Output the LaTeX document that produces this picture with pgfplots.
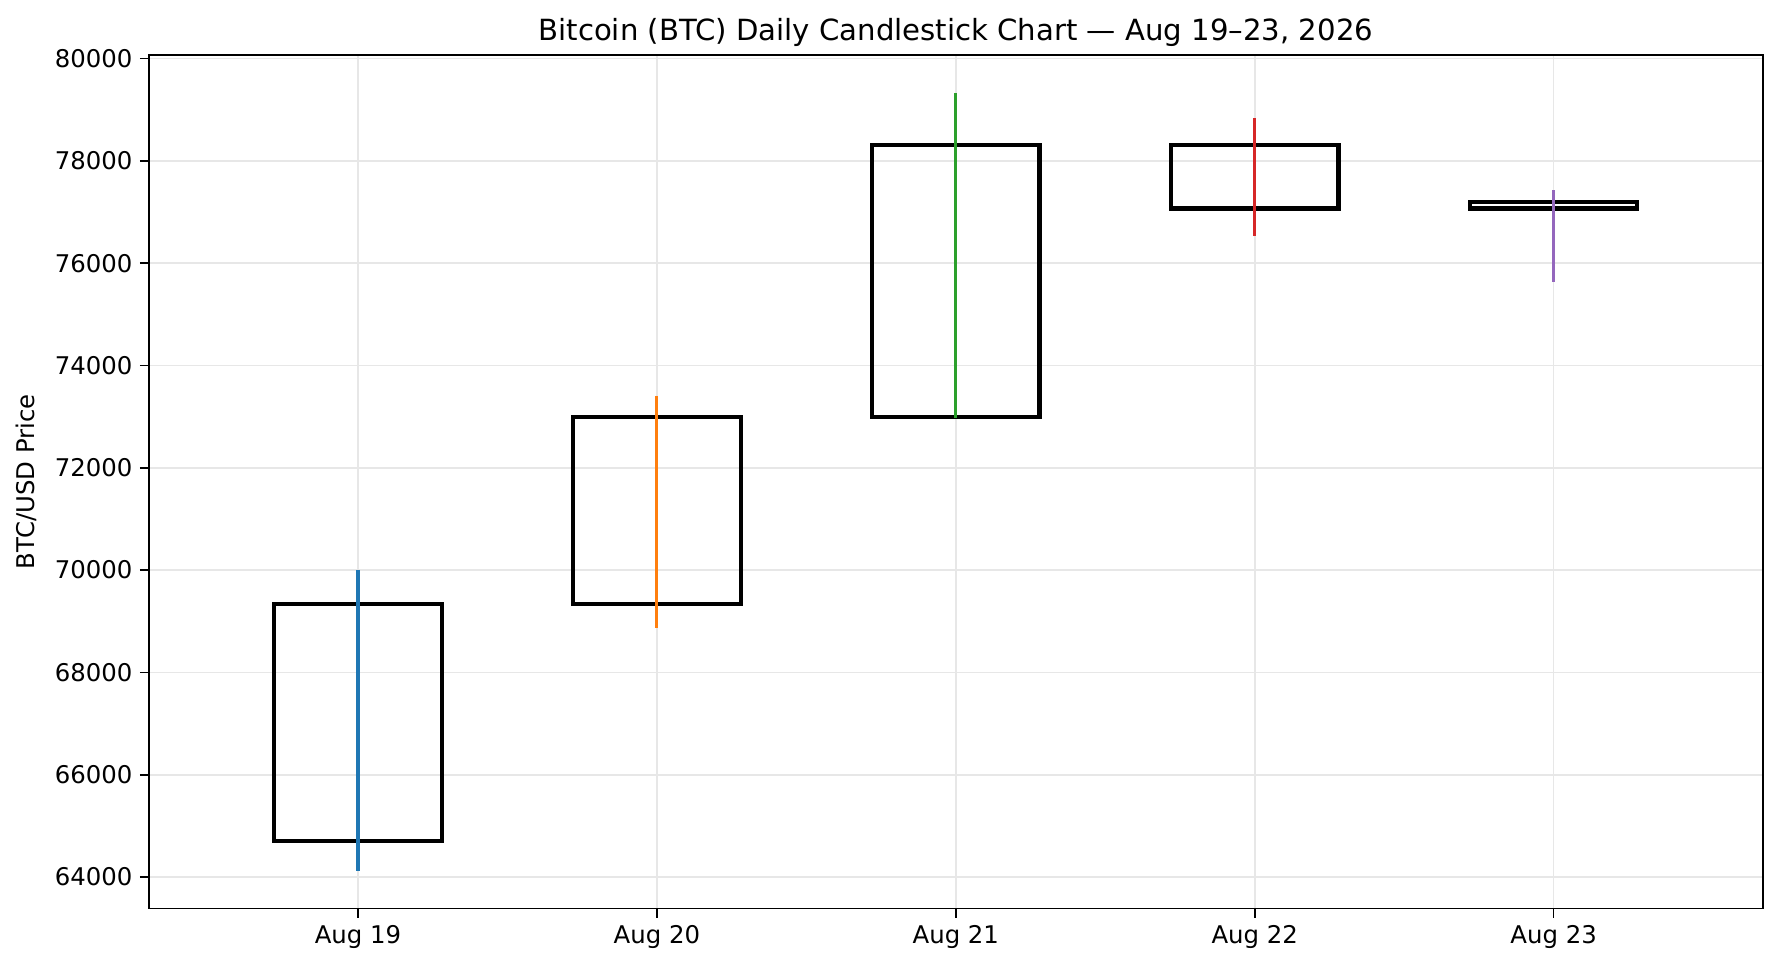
\documentclass[border=0pt]{standalone}
\usepackage{fontspec}
\setmainfont{DejaVu Sans}
\usepackage{pgfplots}
\pgfplotsset{compat=1.18}
\definecolor{c0}{HTML}{1F77B4}
\definecolor{c1}{HTML}{FF7F0E}
\definecolor{c2}{HTML}{2CA02C}
\definecolor{c3}{HTML}{D62728}
\definecolor{c4}{HTML}{9467BD}
\definecolor{gridc}{rgb}{0.906,0.906,0.906}
\begin{document}
\begin{tikzpicture}
\path (0,0) rectangle (855pt,464.7pt);
\begin{axis}[
  at={(71.4pt,28.5pt)}, anchor=south west,
  scale only axis, width=774.9pt, height=409.8pt,
  xmin=-0.7, xmax=4.7, ymin=63382, ymax=80072,
  xtick={0,1,2,3,4},
  xticklabels={Aug 19,Aug 20,Aug 21,Aug 22,Aug 23},
  ytick={64000,66000,68000,70000,72000,74000,76000,78000,80000},
  xtick pos=bottom, ytick pos=left,
  scaled y ticks=false,
  /pgf/number format/assume math mode=true,
  yticklabel style={/pgf/number format/.cd, fixed, 1000 sep={}},
  tick align=outside,
  major tick length=4.3pt,
  tick style={black, line width=0.8pt},
  axis line style={line width=0.8pt},
  grid=major,
  grid style={gridc, line width=0.8pt},
  tick label style={font=\fontsize{11.7}{14}\selectfont},
  title={Bitcoin (BTC) Daily Candlestick Chart — Aug 19–23, 2026},
  every axis title/.style={font=\fontsize{14}{17}\selectfont, at={(axis description cs:0.5,1)}, anchor=base, yshift=6.9pt},
  ylabel={BTC/USD Price},
  ylabel style={font=\fontsize{11.7}{14}\selectfont, at={(axis description cs:-0.0756,0.5)}, anchor=center, rotate=0},
]
% candle bodies (open/close)
\addplot[black, line width=2pt, line join=miter, mark=none] coordinates {(-0.28,64703) (0.28,64703) (0.28,69330) (-0.28,69330)} -- cycle;
\addplot[black, line width=2pt, line join=miter, mark=none] coordinates {(0.72,69330) (1.28,69330) (1.28,72990) (0.72,72990)} -- cycle;
\addplot[black, line width=2pt, line join=miter, mark=none] coordinates {(1.72,72990) (2.28,72990) (2.28,78320) (1.72,78320)} -- cycle;
\addplot[black, line width=2pt, line join=miter, mark=none] coordinates {(2.72,77070) (3.28,77070) (3.28,78320) (2.72,78320)} -- cycle;
\addplot[black, line width=2pt, line join=miter, mark=none] coordinates {(3.72,77070) (4.28,77070) (4.28,77205) (3.72,77205)} -- cycle;
% wicks (low/high)
\addplot[c0, line width=1.5pt, mark=none] coordinates {(0,64120) (0,70000)};
\addplot[c1, line width=1.5pt, mark=none] coordinates {(1,68870) (1,73410)};
\addplot[c2, line width=1.5pt, mark=none] coordinates {(2,72970) (2,79330)};
\addplot[c3, line width=1.5pt, mark=none] coordinates {(3,76530) (3,78830)};
\addplot[c4, line width=1.5pt, mark=none] coordinates {(4,75630) (4,77430)};
\end{axis}
\end{tikzpicture}
\end{document}
